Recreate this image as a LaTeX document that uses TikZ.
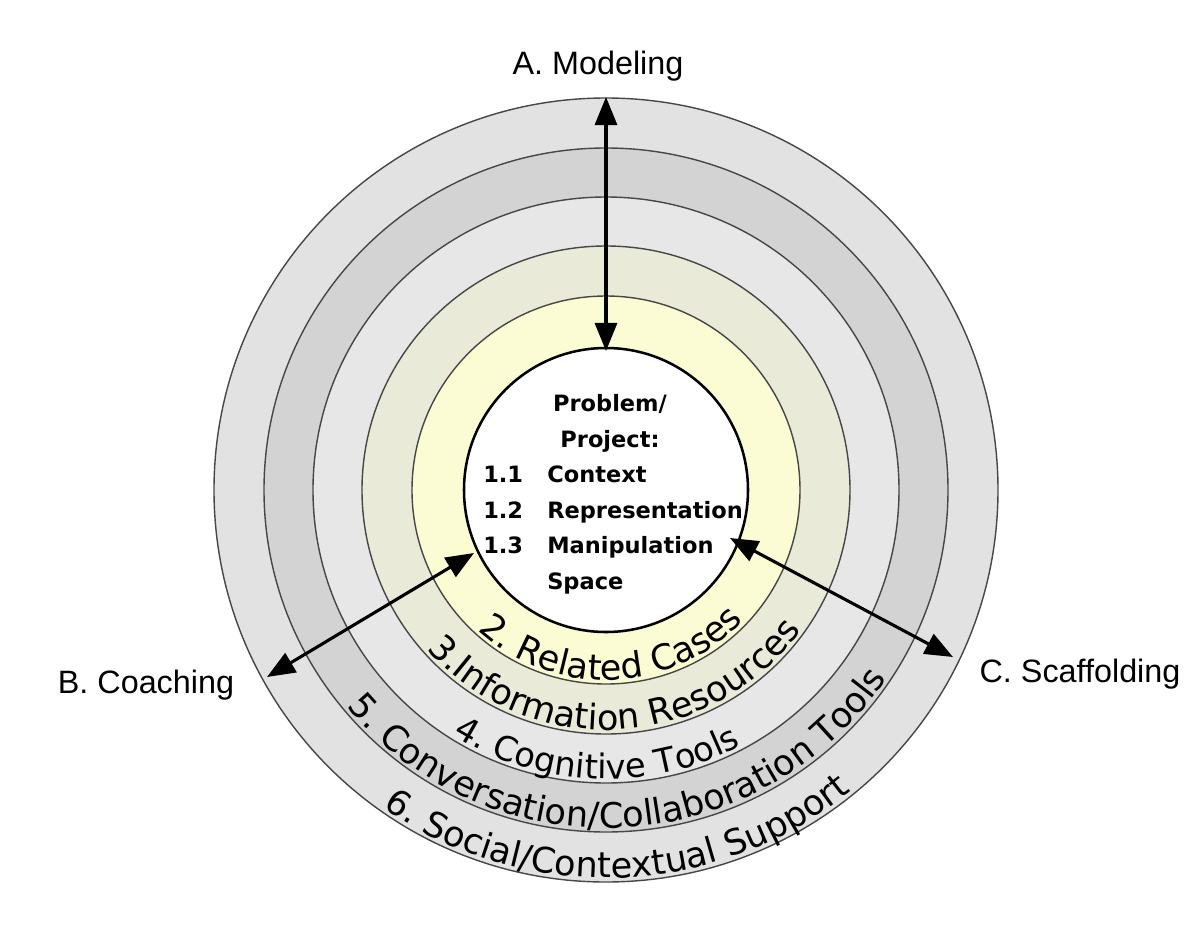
\documentclass[tikz,border=0pt]{standalone}
\usepackage{fontspec}
\setmainfont{Liberation Sans}
\newfontfamily\ringfont{DejaVu Sans}
\newfontfamily\corefont{DejaVu Sans}
\usetikzlibrary{decorations.text, arrows.meta}
\definecolor{ringsix}{HTML}{E2E2E2}
\definecolor{ringfive}{HTML}{D3D3D3}
\definecolor{ringfour}{HTML}{E7E7E7}
\definecolor{ringthree}{HTML}{E9EAD8}
\definecolor{ringtwo}{HTML}{FBFBD4}
\newcommand{\rtext}{\ringfont\fontsize{25}{25}\selectfont}
\newcommand{\rtextsmall}{\ringfont\fontsize{24}{24}\selectfont}
\begin{document}
\begin{tikzpicture}[x=0.025cm, y=0.025cm,
  ringline/.style={draw=black!72, line width=1pt},
  coreline/.style={draw=black, line width=1.8pt},
  biarrow/.style={{Triangle[length=0.7cm,width=0.55cm]}-{Triangle[length=0.7cm,width=0.55cm]}, line width=2.2pt},
  outerlabel/.style={font=\fontsize{23}{23}\selectfont, inner sep=0pt},
  coretext/.style={font=\corefont\bfseries\fontsize{16}{16}\selectfont, inner sep=0pt},
  ringlabel/.style={decorate, decoration={text along path, text align=center, text={#1}}}
]
\useasboundingbox (-606,-459) rectangle (594,490);
\fill[white] (-606,-459) rectangle (594,490);

% rings
\filldraw[ringline, fill=ringsix]  (0,0) circle[radius=392];
\filldraw[ringline, fill=ringfive] (0,0) circle[radius=342];
\filldraw[ringline, fill=ringfour] (0,0) circle[radius=293];
\filldraw[ringline, fill=ringthree] (0,0) circle[radius=244];
\filldraw[ringline, fill=ringtwo]  (0,0) circle[radius=194];
\filldraw[coreline, fill=white]    (0,0) circle[radius=142];

% ring texts
\path[ringlabel={|\rtext|2. Related Cases}] (182:190) arc[start angle=182, end angle=362, radius=190];
\path[ringlabel={|\rtext|3.Information Resources}] (183:240) arc[start angle=183, end angle=363, radius=240];
\path[ringlabel={|\rtextsmall|4. Cognitive Tools}] (178:289) arc[start angle=178, end angle=358, radius=289];
\path[ringlabel={|\rtext|5. Conversation/Collaboration Tools}] (183:338) arc[start angle=183, end angle=363, radius=338];
\path[ringlabel={|\rtext|6. Social/Contextual Support}] (182:388) arc[start angle=182, end angle=362, radius=388];

% core text
\node[coretext, anchor=base] (t1) at (4,78.5) {Problem/};
\node[coretext, anchor=base] (t2) at (4,43) {Project:};
\node[coretext, anchor=base west] (n1) at (-123,7.5) {1.1};
\node[coretext, anchor=base west] (w1) at (-59,7.5) {Context};
\node[coretext, anchor=base west] (n2) at (-123,-28) {1.2};
\node[coretext, anchor=base west] (w2) at (-59,-28) {Representation};
\node[coretext, anchor=base west] (n3) at (-123,-63.5) {1.3};
\node[coretext, anchor=base west] (w3) at (-59,-63.5) {Manipulation};
\node[coretext, anchor=base west] (w4) at (-59,-99) {Space};

% arrow end points
\coordinate (ain) at (0,139);
\coordinate (aout) at (0,393);
\coordinate (bin) at (-132,-63);
\coordinate (bout) at (-339,-187);
\coordinate (cin) at (124,-48);
\coordinate (cout) at (347,-167);

\draw[biarrow] (ain) -- (aout);
\draw[biarrow] (bin) -- (bout);
\draw[biarrow] (cin) -- (cout);

% outer labels
\node[outerlabel, anchor=base] (la) at (-8,415) {A. Modeling};
\node[outerlabel, anchor=base] (lb) at (-460,-203) {B. Coaching};
\node[outerlabel, anchor=base] (lc) at (474,-192) {C. Scaffolding};
\end{tikzpicture}
\end{document}
